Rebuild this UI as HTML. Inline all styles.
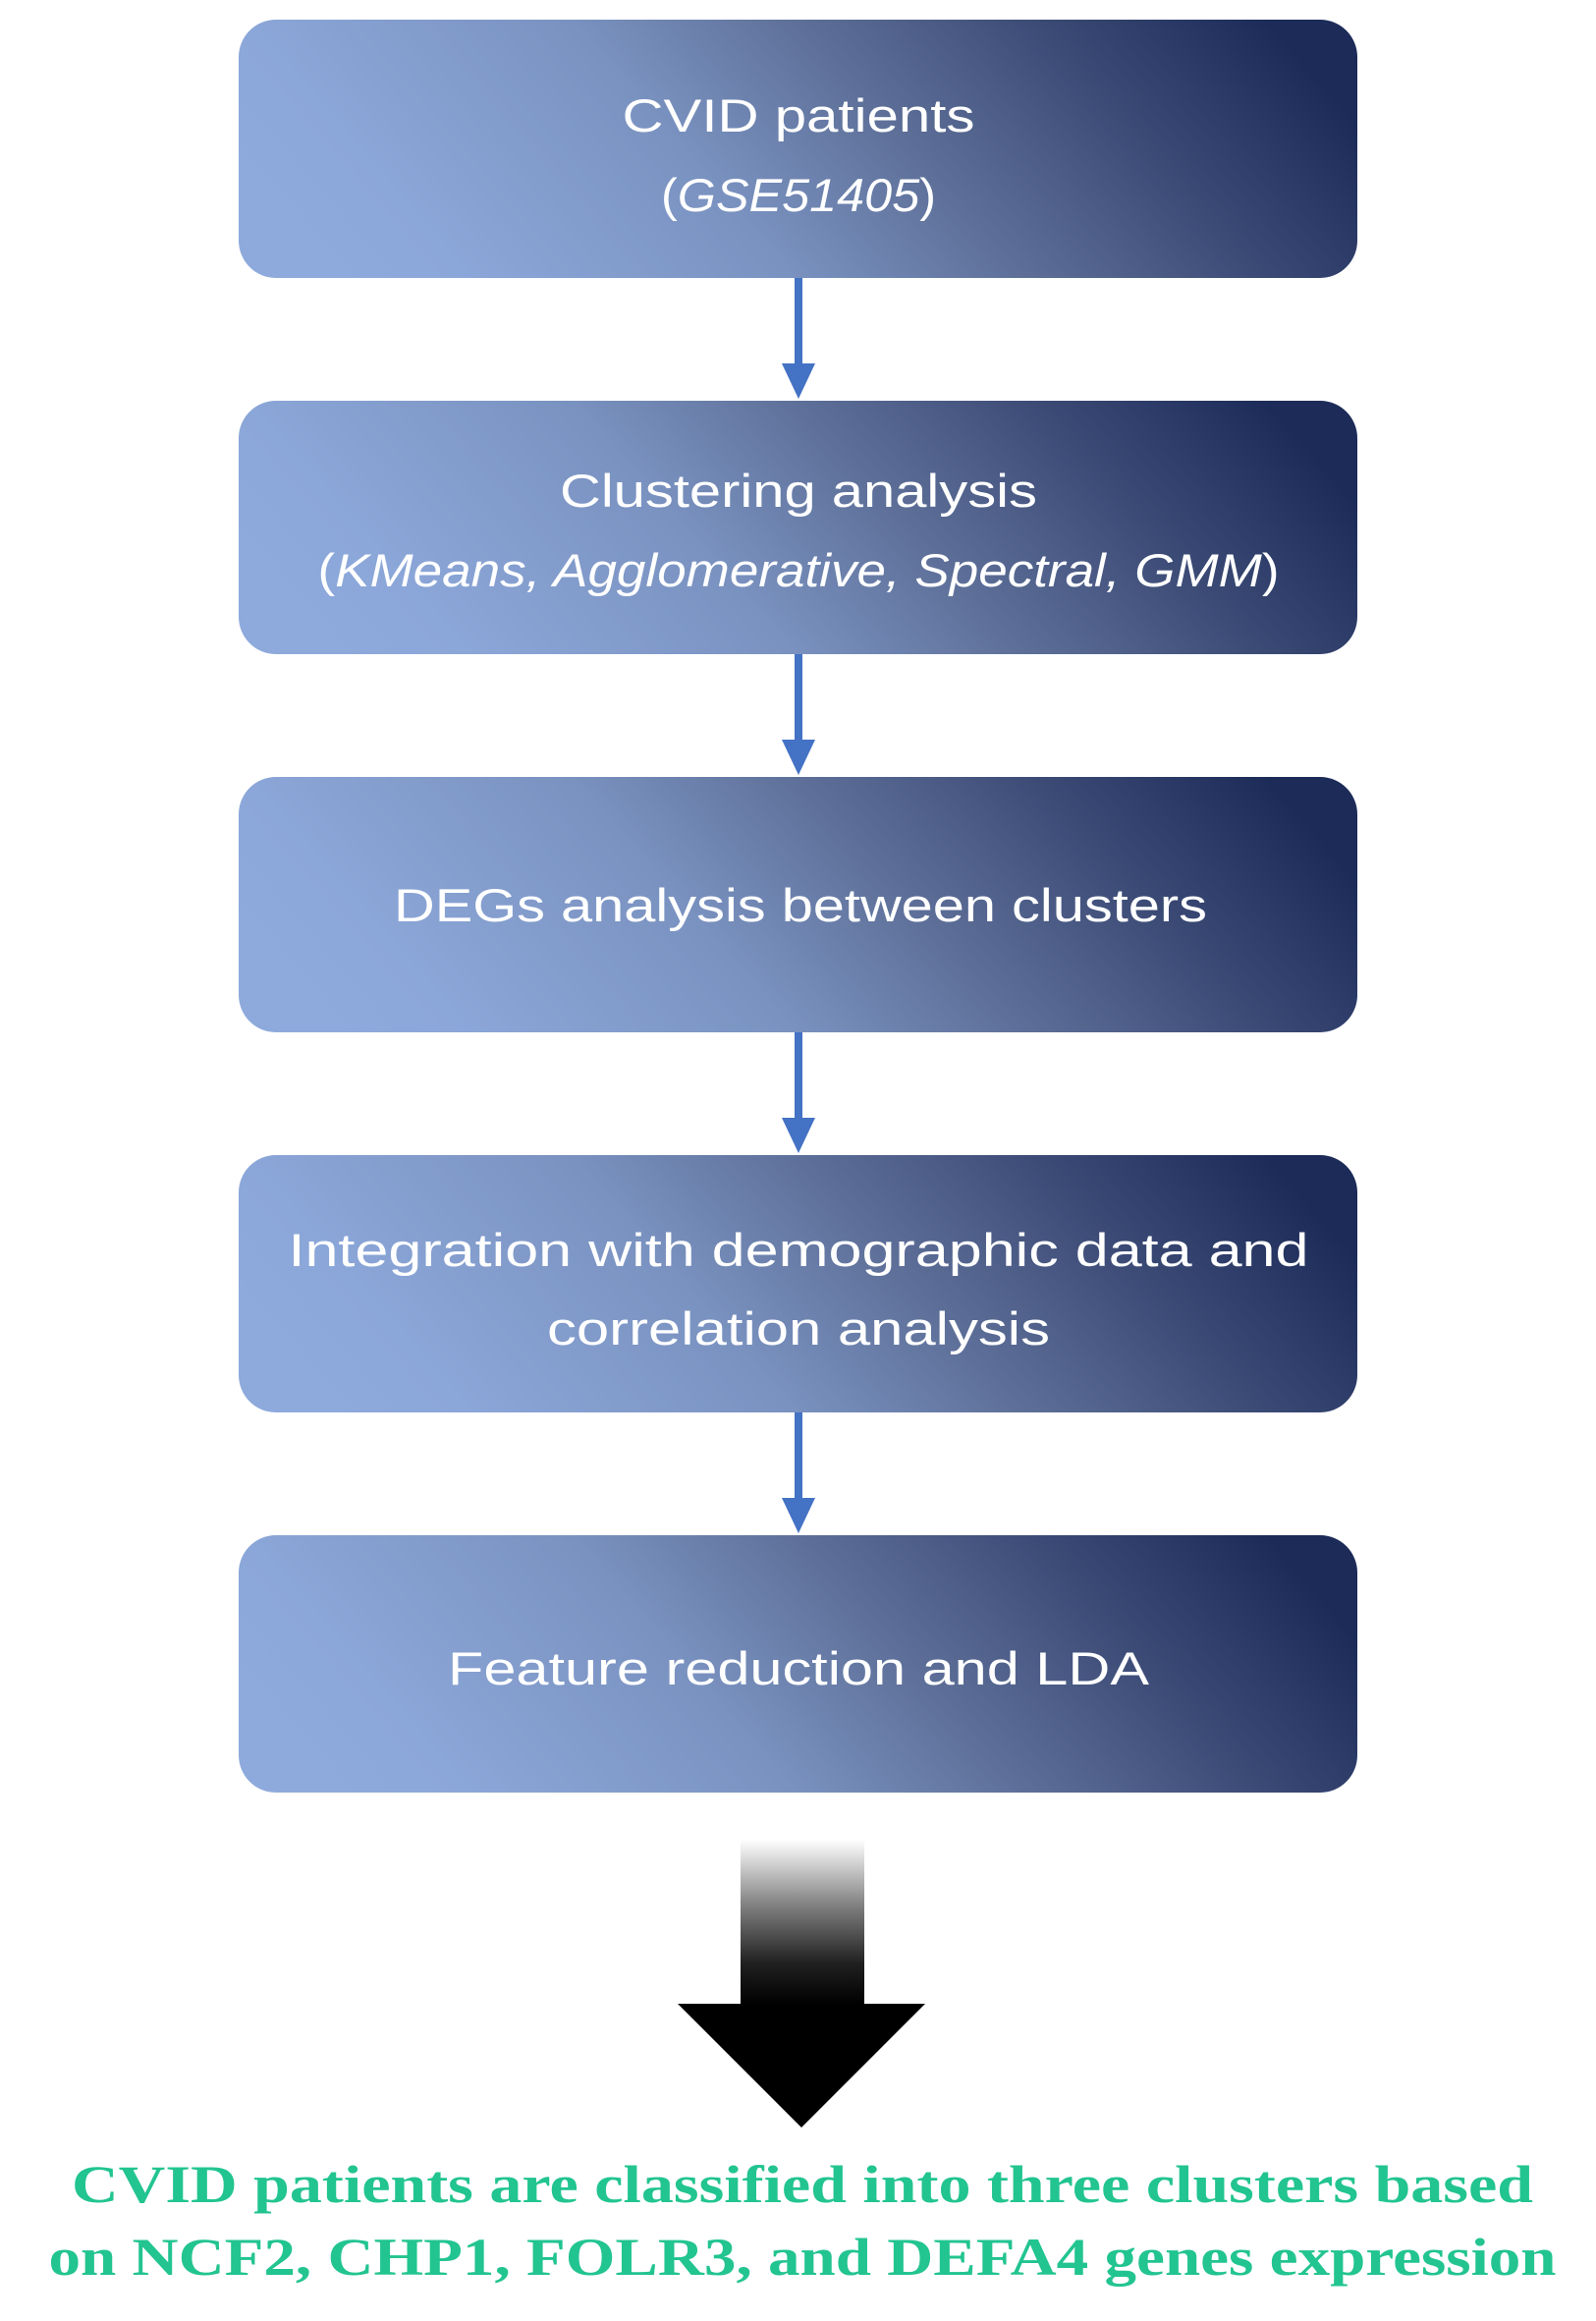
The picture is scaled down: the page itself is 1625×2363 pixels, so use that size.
<!DOCTYPE html>
<html><head><meta charset="utf-8"><style>html,body{margin:0;padding:0;background:#fff}svg{display:block}</style></head>
<body>
<svg width="1625" height="2363" viewBox="0 0 1625 2363" xmlns="http://www.w3.org/2000/svg">
<defs>
<linearGradient id="bg" x1="0" y1="0.6" x2="1" y2="0.4">
<stop offset="0" stop-color="#8eaadc"/>
<stop offset="0.12" stop-color="#8ba6d8"/>
<stop offset="0.4" stop-color="#7a92c0"/>
<stop offset="0.6" stop-color="#5d6f98"/>
<stop offset="0.8" stop-color="#3c4b76"/>
<stop offset="1" stop-color="#1c2b58"/>
</linearGradient>
<linearGradient id="sg" x1="0" y1="0" x2="0" y2="1">
<stop offset="0" stop-color="#ffffff"/>
<stop offset="0.4" stop-color="#808080"/>
<stop offset="0.75" stop-color="#202020"/>
<stop offset="1" stop-color="#000"/>
</linearGradient>
</defs>
<g fill="url(#bg)">
<rect x="243" y="20" width="1139" height="263" rx="38"/>
<rect x="243" y="408" width="1139" height="258" rx="38"/>
<rect x="243" y="791" width="1139" height="260" rx="38"/>
<rect x="243" y="1176" width="1139" height="262" rx="38"/>
<rect x="243" y="1563" width="1139" height="262" rx="38"/>
</g>
<g fill="#4472c4">
<rect x="809" y="283" width="8" height="90"/><polygon points="796,370 830,370 813,406"/>
<rect x="809" y="666" width="8" height="90"/><polygon points="796,753 830,753 813,789"/>
<rect x="809" y="1051" width="8" height="90"/><polygon points="796,1138 830,1138 813,1174"/>
<rect x="809" y="1438" width="8" height="90"/><polygon points="796,1525 830,1525 813,1561"/>
</g>
<g font-family="'Liberation Sans', sans-serif" font-size="47" fill="#fff" text-anchor="middle">
<text x="813" y="134" textLength="359" lengthAdjust="spacingAndGlyphs">CVID patients</text>
<text x="813" y="215" textLength="280" lengthAdjust="spacingAndGlyphs">(<tspan font-style="italic">GSE51405</tspan>)</text>
<text x="813" y="516" textLength="486" lengthAdjust="spacingAndGlyphs">Clustering analysis</text>
<text x="813" y="597" textLength="979" lengthAdjust="spacingAndGlyphs">(<tspan font-style="italic">KMeans, Agglomerative, Spectral, GMM</tspan>)</text>
<text x="815" y="938" textLength="828" lengthAdjust="spacingAndGlyphs">DEGs analysis between  clusters</text>
<text x="813" y="1289" textLength="1039" lengthAdjust="spacingAndGlyphs">Integration with demographic data and</text>
<text x="813" y="1369" textLength="512" lengthAdjust="spacingAndGlyphs">correlation analysis</text>
<text x="813" y="1715" textLength="714" lengthAdjust="spacingAndGlyphs">Feature reduction and LDA</text>
</g>
<rect x="754" y="1873" width="126" height="168" fill="url(#sg)"/>
<polygon points="690,2040 942,2040 816,2166" fill="#000"/>
<g font-family="'Liberation Serif', serif" font-weight="bold" font-size="54" fill="#22c490" text-anchor="middle">
<text x="817" y="2242" textLength="1488" lengthAdjust="spacingAndGlyphs">CVID patients are classified  into three clusters  based</text>
<text x="817" y="2316" textLength="1535" lengthAdjust="spacingAndGlyphs">on NCF2, CHP1, FOLR3, and DEFA4 genes expression</text>
</g>
</svg>
</body></html>
